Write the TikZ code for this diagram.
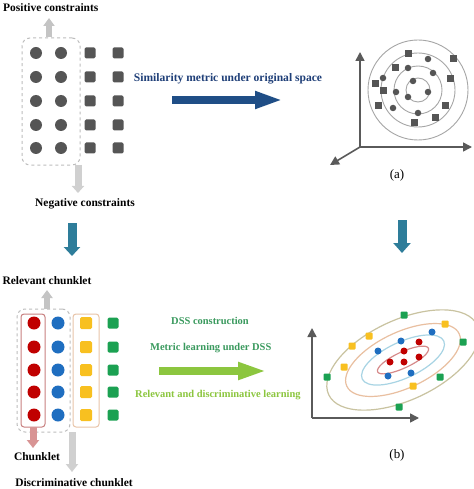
\documentclass[tikz,border=0pt]{standalone}
\usepackage{fontspec}
\setmainfont{Liberation Serif}
\usetikzlibrary{arrows.meta}
\definecolor{ptgray}{HTML}{555555}
\definecolor{axgray}{HTML}{5A5A5A}
\definecolor{navy}{HTML}{1F4E86}
\definecolor{navytext}{HTML}{1F3F78}
\definecolor{teal}{HTML}{2E7D9A}
\definecolor{lgreen}{HTML}{8CC63F}
\definecolor{dgreentext}{HTML}{3A9A5E}
\definecolor{lgreentext}{HTML}{8CC63F}
\definecolor{cred}{HTML}{C00000}
\definecolor{cblue}{HTML}{1F6EC0}
\definecolor{cyellow}{HTML}{F8C020}
\definecolor{cgreen}{HTML}{1BA152}
\definecolor{ellA}{HTML}{C9C3A0}
\definecolor{ellB}{HTML}{E9BFA0}
\definecolor{ellC}{HTML}{A8D4E4}
\definecolor{ellD}{HTML}{D68A8A}
\definecolor{redbox}{HTML}{C88080}
\definecolor{tanbox}{HTML}{E8C4A8}
\definecolor{pinkarrow}{HTML}{D89494}
\definecolor{lgray}{HTML}{C4C4C4}
\begin{document}
\begin{tikzpicture}[x=1bp,y=-1bp,
  lbl/.style={font=\bfseries\fontsize{11.5}{13}\selectfont, inner sep=0, text=black},
  glbl/.style={font=\bfseries\fontsize{10.5}{12}\selectfont, inner sep=0, anchor=west},
  captxt/.style={font=\fontsize{13}{15}\selectfont, inner sep=0},
  gdot/.style={circle, fill=ptgray, inner sep=0, minimum size=12bp},
  gsq/.style={rectangle, rounded corners=1.5bp, fill=ptgray, inner sep=0, minimum size=11bp},
  rdot/.style={circle, fill=cred, inner sep=0, minimum size=13bp},
  bdot/.style={circle, fill=cblue, inner sep=0, minimum size=13bp},
  ysq/.style={rectangle, rounded corners=1.5bp, fill=cyellow, inner sep=0, minimum size=12bp},
  gnsq/.style={rectangle, rounded corners=1.5bp, fill=cgreen, inner sep=0, minimum size=11bp},
  pdot/.style={circle, fill=ptgray, inner sep=0, minimum size=6.5bp},
  psq/.style={rectangle, fill=ptgray, inner sep=0, minimum size=7bp},
  prd/.style={circle, fill=cred, inner sep=0, minimum size=7bp},
  pbl/.style={circle, fill=cblue, inner sep=0, minimum size=7bp},
  pye/.style={rectangle, rounded corners=1bp, fill=cyellow, inner sep=0, minimum size=7bp},
  pgn/.style={rectangle, rounded corners=1bp, fill=cgreen, inner sep=0, minimum size=7bp},
  axis/.style={draw=axgray, line width=1.6bp, -{Triangle[length=9bp,width=9bp]}},
]
\useasboundingbox (0,0) rectangle (474,489);
\fill[white] (0,0) rectangle (474,489);

% ---------- top-left group ----------
\node[draw=lgray!90!gray, dashed, line width=1bp, rounded corners=8bp, minimum width=58bp, minimum height=127bp, inner sep=0] (posbox) at (51,101.5) {};
\foreach \r/\y in {1/53,2/77,3/101,4/125,5/148}{
  \node[gdot] (c1\r) at (36,\y) {};
  \node[gdot] (c2\r) at (61,\y) {};
  \node[gsq] (s1\r) at (90,\y) {};
  \node[gsq] (s2\r) at (118,\y) {};
}
\node[lbl, anchor=west] (poslbl) at (3,7.5) {Positive constraints};
\node[lbl] (neglbl) at (85,204) {Negative constraints};
\coordinate (pu1) at (49,37);
\coordinate (pu2) at (49,18);
\draw[lgray, line width=6bp, -{Triangle[length=8bp,width=11bp]}] (pu1) -- (pu2);
\coordinate (nd1) at (78,165);
\coordinate (nd2) at (78,193);
\draw[lgray!80, line width=7bp, -{Triangle[length=7bp,width=12bp]}] (nd1) -- (nd2);

% ---------- top arrow ----------
\node[font=\bfseries\fontsize{11.6}{13}\selectfont, text=navytext, inner sep=0] (simlbl) at (228,79) {Similarity metric under original space};
\coordinate (na1) at (172,100);
\coordinate (na2) at (283,100);
\draw[navy, line width=8bp, -{Triangle[length=28bp,width=16bp]}] (na1) -- (na2);

% ---------- plot (a) ----------
\coordinate (oA) at (360,147);
\coordinate (yA) at (360,52);
\coordinate (xA) at (472,147);
\coordinate (zA) at (330,165);
\draw[axis] (oA) -- (yA);
\draw[axis] (oA) -- (xA);
\draw[axis] (oA) -- (zA);
\coordinate (cA) at (418,90);
\foreach \rr in {50,37,24,12}{
  \draw[gray!70, line width=0.9bp] (cA) circle [radius=\rr];
}
\foreach \p [count=\i] in {(408,54),(453,59),(395,68),(450,79),(375,84),(383,91),(378,106),(445,106),(435,118),(414,123)}{
  \node[psq] (as\i) at \p {};
}
\foreach \p [count=\i] in {(428,59),(408,68),(433,73),(383,78),(413,81),(396,92),(428,92),(408,97),(393,108),(418,113)}{
  \node[pdot] (ad\i) at \p {};
}
\node[captxt] (capa) at (397,175) {(a)};

% ---------- teal arrows ----------
\coordinate (t1a) at (72,223);
\coordinate (t1b) at (72,256);
\draw[teal, line width=9bp, -{Triangle[length=9bp,width=16bp]}] (t1a) -- (t1b);
\coordinate (t2a) at (402,220);
\coordinate (t2b) at (402,253);
\draw[teal, line width=9bp, -{Triangle[length=10bp,width=17bp]}] (t2a) -- (t2b);

% ---------- bottom-left group ----------
\node[lbl] (rellbl) at (47,281) {Relevant chunklet};
\node[draw=lgray!90!gray, dashed, line width=1bp, rounded corners=8bp, minimum width=53bp, minimum height=123bp, inner sep=0] (discbox) at (43.5,370.5) {};
\node[draw=redbox, line width=1bp, rounded corners=3bp, minimum width=24bp, minimum height=113bp, inner sep=0] (chbox) at (33,370.5) {};
\node[draw=tanbox, line width=1bp, rounded corners=3bp, minimum width=26bp, minimum height=113bp, inner sep=0] (tanb) at (86,370.5) {};
\foreach \r/\y in {1/323,2/347,3/370,4/392,5/415}{
  \node[rdot] (r\r) at (34,\y) {};
  \node[bdot] (b\r) at (58,\y) {};
  \node[ysq] (y\r) at (86,\y) {};
  \node[gnsq] (g\r) at (113,\y) {};
}
\coordinate (ru1) at (47,309);
\coordinate (ru2) at (47,290);
\draw[lgray, line width=6bp, -{Triangle[length=8bp,width=11bp]}] (ru1) -- (ru2);
\coordinate (cd1) at (33,427);
\coordinate (cd2) at (33,448);
\draw[pinkarrow, line width=7bp, -{Triangle[length=8bp,width=12bp]}] (cd1) -- (cd2);
\coordinate (dd1) at (72,432);
\coordinate (dd2) at (72,472);
\draw[lgray!80, line width=7bp, -{Triangle[length=8bp,width=12bp]}] (dd1) -- (dd2);
\node[lbl] (chlbl) at (37,457) {Chunklet};
\node[lbl] (disclbl) at (74,483) {Discriminative chunklet};

% ---------- green arrow and texts ----------
\node[glbl, text=dgreentext] (dsslbl) at (171,321) {DSS construction};
\node[glbl, text=dgreentext] (mllbl) at (150,348) {Metric learning under DSS};
\node[glbl, text=lgreentext] (rdlbl) at (135,395) {Relevant and discriminative learning};
\coordinate (ga1) at (159,371);
\coordinate (ga2) at (267,371);
\draw[lgreen, line width=8bp, -{Triangle[length=29bp,width=16bp]}] (ga1) -- (ga2);

% ---------- plot (b) ----------
\coordinate (oB) at (312,418);
\coordinate (yB) at (312,328);
\coordinate (xB) at (419,418);
\draw[axis] (oB) -- (yB);
\draw[axis] (oB) -- (xB);
\coordinate (cB) at (403,360);
\draw[ellA, line width=1.2bp, rotate around={25:(cB)}] (cB) ellipse [x radius=82, y radius=40];
\draw[ellB, line width=1.2bp, rotate around={25:(cB)}] (cB) ellipse [x radius=62, y radius=28];
\draw[ellC, line width=1.2bp, rotate around={25:(cB)}] (cB) ellipse [x radius=45, y radius=18];
\draw[ellD, line width=1.2bp, rotate around={25:(cB)}] (cB) ellipse [x radius=28, y radius=8];
\foreach \p [count=\i] in {(404,315),(463,342),(327,377),(440,377),(399,407)}{
  \node[pgn] (bg\i) at \p {};
}
\foreach \p [count=\i] in {(445,324),(369,336),(352,346),(344,367),(413,386)}{
  \node[pye] (by\i) at \p {};
}
\foreach \p [count=\i] in {(432,332),(401,341),(378,351),(411,373),(388,376)}{
  \node[pbl] (bb\i) at \p {};
}
\foreach \p [count=\i] in {(419,342),(404,351),(390,362),(404,362),(419,357)}{
  \node[prd] (br\i) at \p {};
}
\node[captxt] (capb) at (397,455) {(b)};
\end{tikzpicture}
\end{document}
